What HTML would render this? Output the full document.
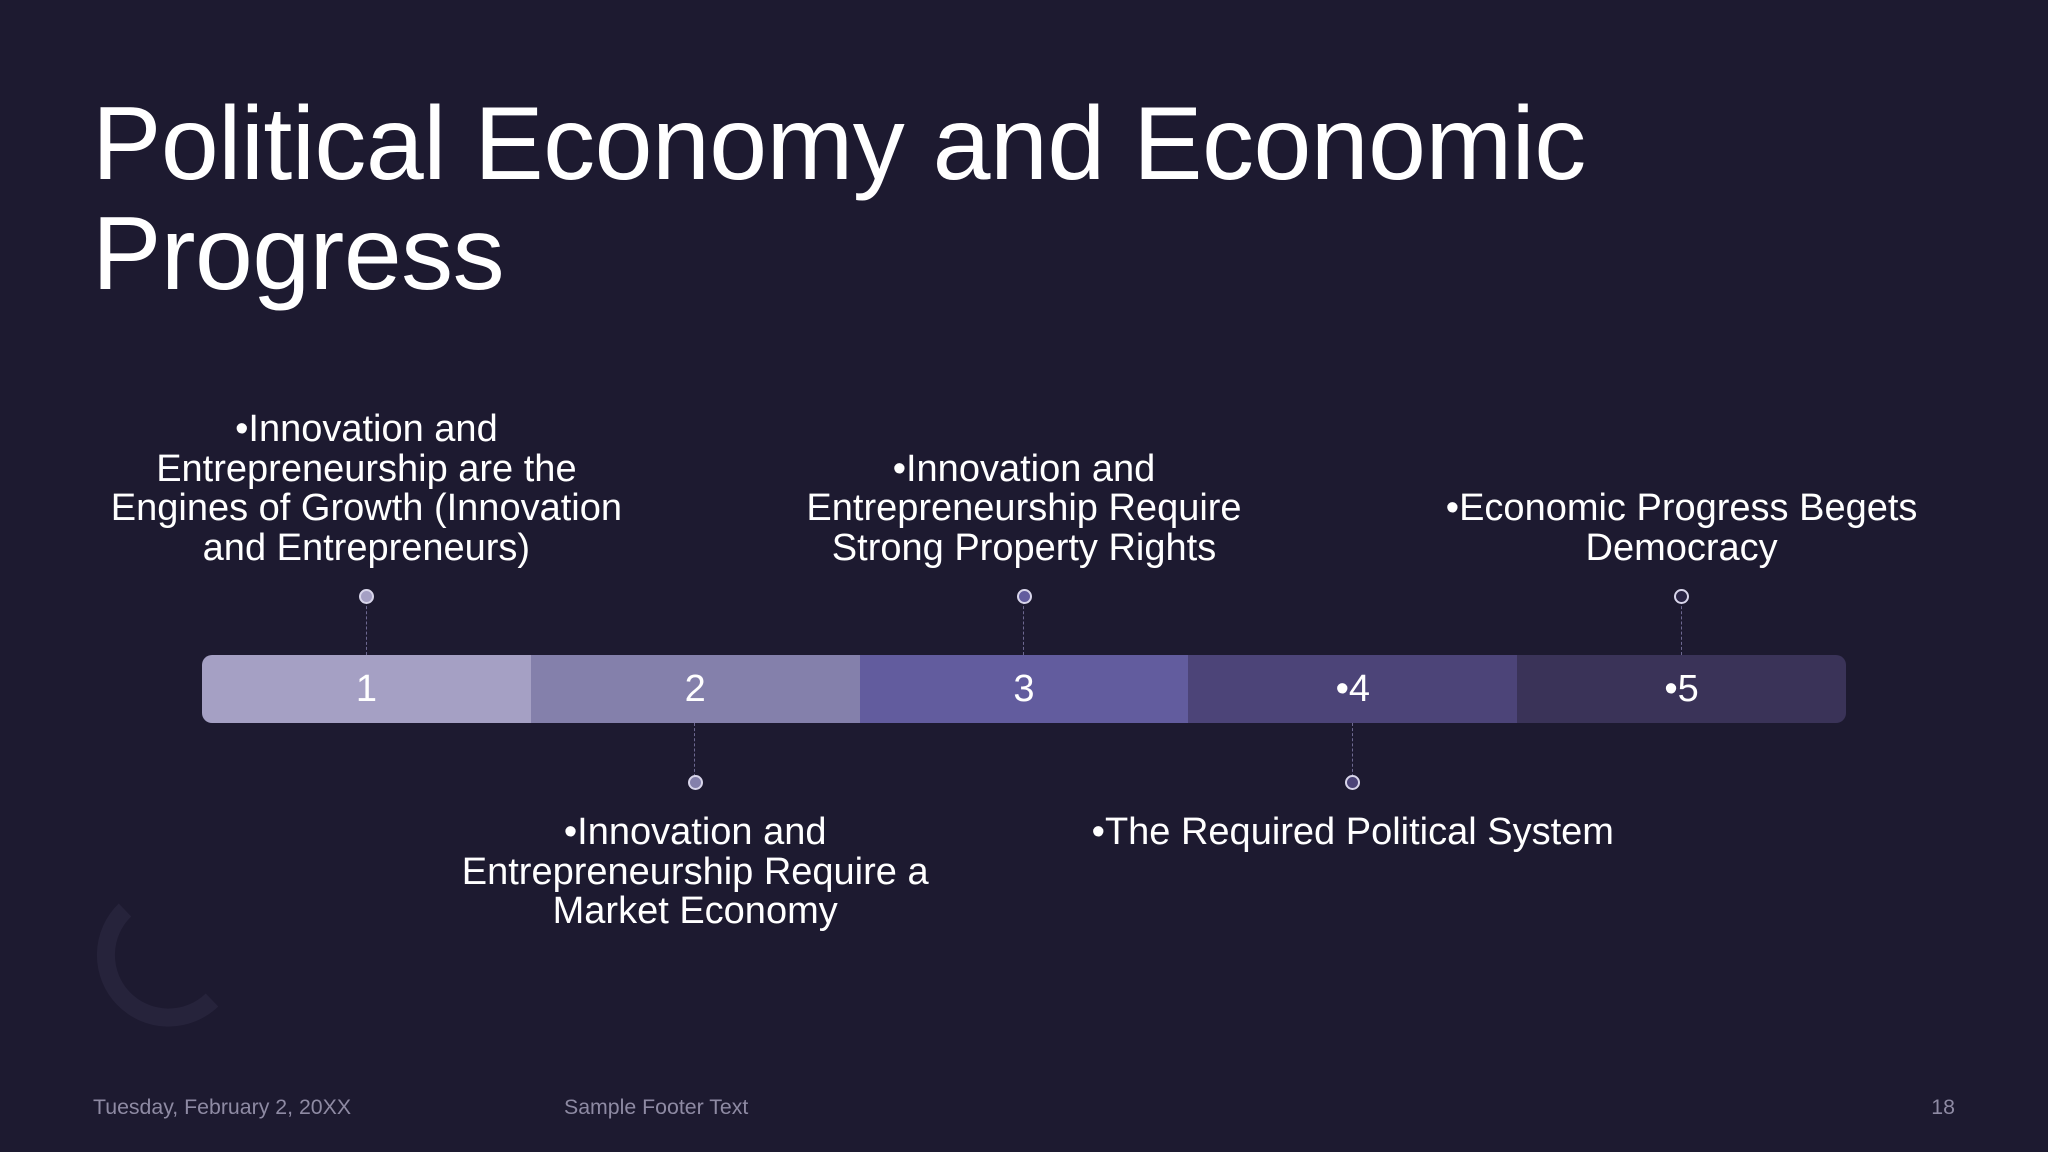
<!DOCTYPE html>
<html><head><meta charset="utf-8"><style>
html,body{margin:0;padding:0}
body{width:2048px;height:1152px;background:#1d1a30;position:relative;overflow:hidden;font-family:"Liberation Sans",Arial,sans-serif;color:#fff}
#title{position:absolute;left:92px;top:89px;font-size:104px;line-height:110px;margin:0;font-weight:normal;letter-spacing:-0.5px}
.lbl{position:absolute;width:660px;text-align:center;font-size:38px;line-height:39.5px;color:#fff}
.seg{position:absolute;top:655px;height:68px;display:flex;align-items:center;justify-content:center;font-size:38px;color:#fff}
.dot{position:absolute;width:11px;height:11px;border-radius:50%;border:2px solid #d8d5ea;box-sizing:content-box}
.conn{position:absolute;width:0;border-left:1.5px dashed #6d6890}
.foot{position:absolute;top:1095px;font-size:21.3px;color:#8e8aa3}
</style></head><body>
<h1 id="title">Political Economy and Economic<br>Progress</h1>
<svg style="position:absolute;left:0;top:0" width="300" height="1152">
<path d="M125 910 A62 62 0 0 0 212 1000" fill="none" stroke="#29263f" stroke-width="18" opacity="0.8"/>
</svg>
<div id="timeline"></div>
<div class="foot" style="left:93px">Tuesday, February 2, 20XX</div>
<div class="foot" style="left:564px">Sample Footer Text</div>
<div class="foot" style="right:93px">18</div>
<script>
const stepLabels=["1","2","3","•4","•5"];
const stepTexts=[
"•Innovation and<br>Entrepreneurship are the<br>Engines of Growth (Innovation<br>and Entrepreneurs)",
"•Innovation and<br>Entrepreneurship Require a<br>Market Economy",
"•Innovation and<br>Entrepreneurship Require<br>Strong Property Rights",
"•The Required Political System",
"•Economic Progress Begets<br>Democracy"];
const stepSides=["above","below","above","below","above"];
const stepColors=["#a5a0c4","#8480ab","#625c9e","#4c4478","#3a3358"];
const dotFills=["#a5a0c4","#8480ab","#625c9e","#4c4478","#2a2545"];
const tl=document.getElementById('timeline');
const x0=202,x1=1846,w=(x1-x0)/stepLabels.length,lh=39.5;
stepLabels.forEach((s,i)=>{
  const seg=document.createElement('div');
  
  
  seg.className='seg';
  seg.style.left=(x0+i*w)+'px';seg.style.width=w+'px';seg.style.background=stepColors[i];
  if(i===0)seg.style.borderRadius='10px 0 0 10px';
  if(i===stepLabels.length-1)seg.style.borderRadius='0 10px 10px 0';
  seg.textContent=s;tl.appendChild(seg);
  const cx=x0+(i+0.5)*w;
  const above=stepSides[i]==='above';
  const dy=above?596:782;
  const c=document.createElement('div');
  
  
  c.className='conn';c.style.left=(cx-0.75)+'px';
  c.style.top=(above?dy:723)+'px';c.style.height=(above?655-dy:dy-723)+'px';
  tl.appendChild(c);
  const d=document.createElement('div');
  
  
  d.className='dot';d.style.left=(cx-7.5)+'px';d.style.top=(dy-7.5)+'px';d.style.background=dotFills[i];
  tl.appendChild(d);
  const t=document.createElement('div');
  
  
  t.className='lbl';t.innerHTML=stepTexts[i];
  t.style.left=(cx-330)+'px';
  const n=stepTexts[i].split('<br>').length;
  t.style.top=(above?(568-n*lh):813)+'px';
  tl.appendChild(t);
});
</script>
</body></html>
